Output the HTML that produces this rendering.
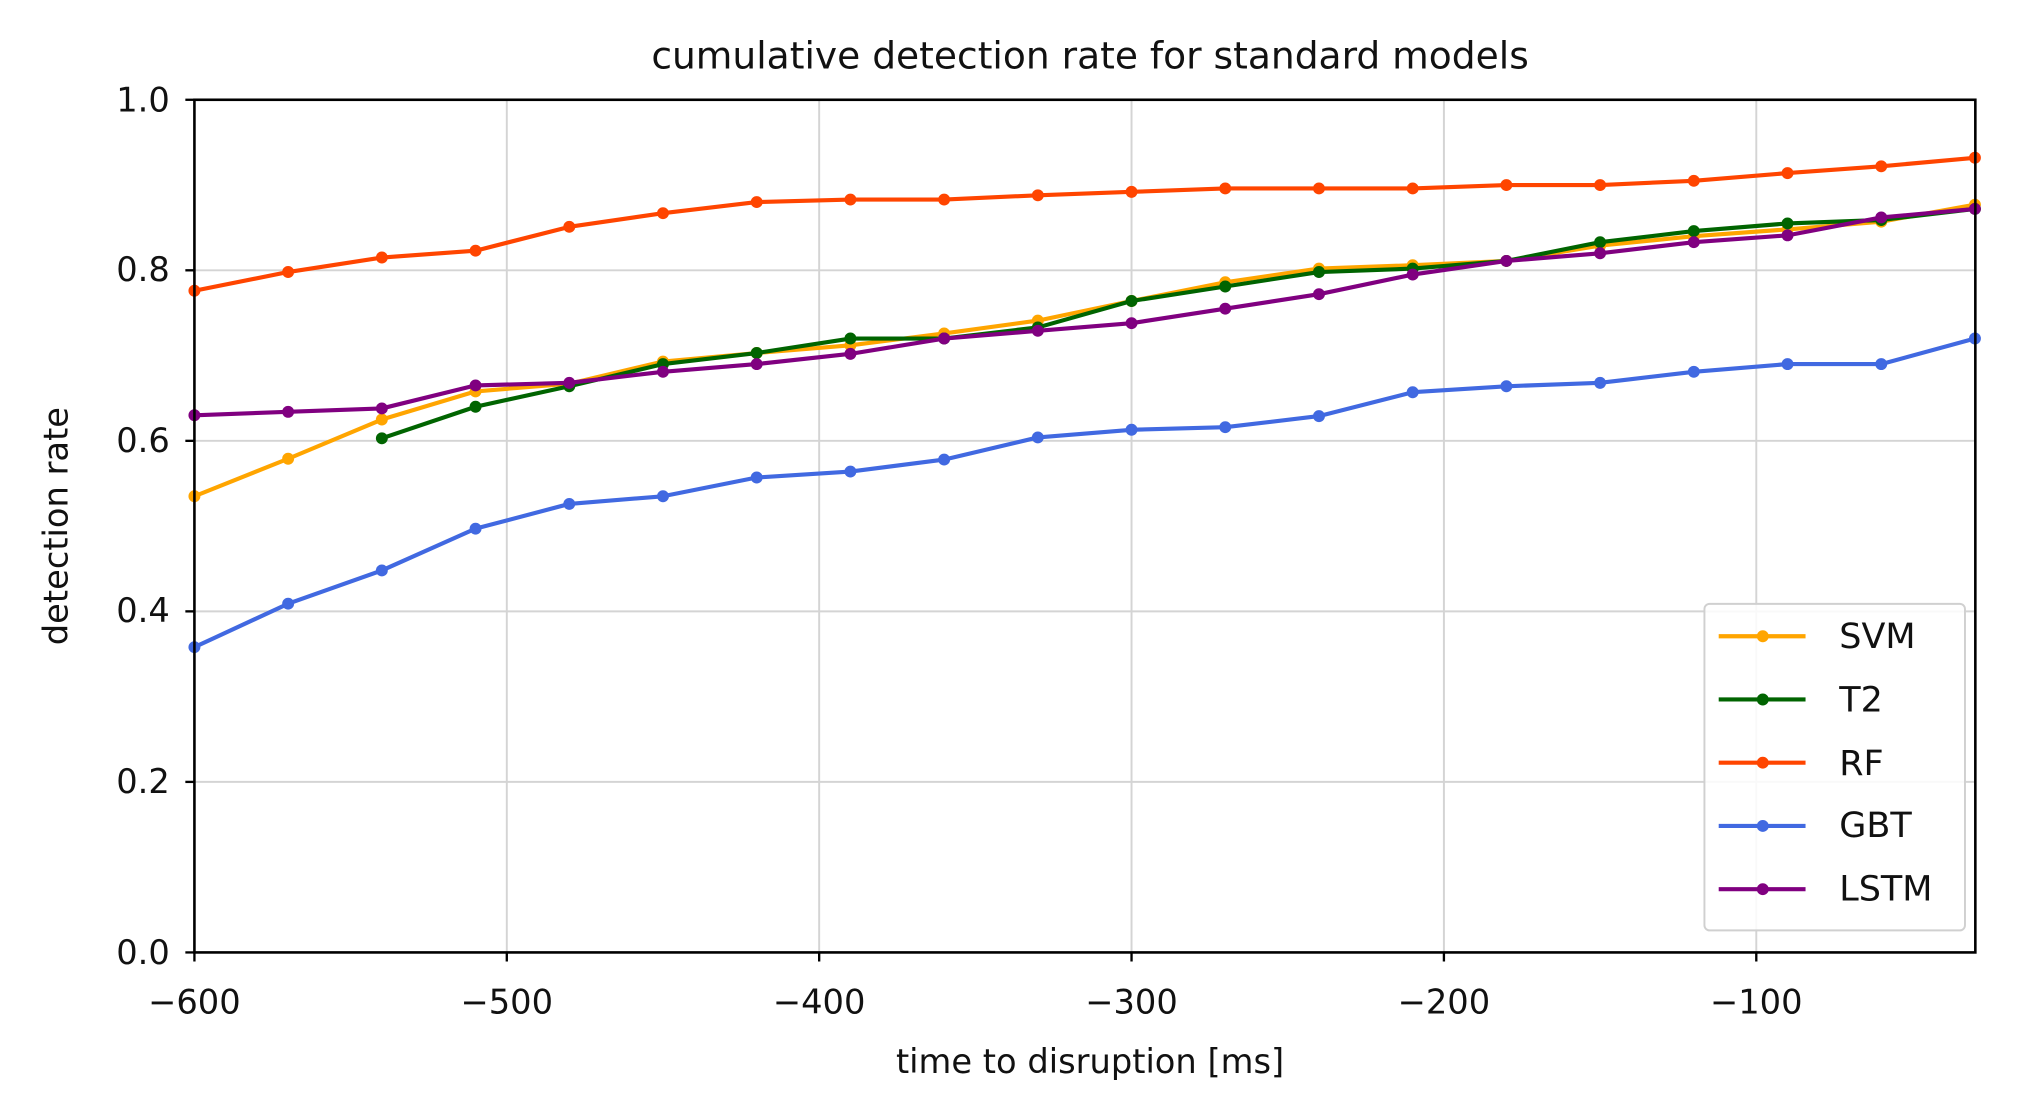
<!DOCTYPE html>
<html><head><meta charset="utf-8"><style>html,body{margin:0;padding:0;background:#fff}svg{display:block}</style></head>
<body>
<svg id="s" width="2022" height="1117" viewBox="0 0 1560 862" preserveAspectRatio="none" xmlns="http://www.w3.org/2000/svg" font-family="'DejaVu Sans','Liberation Sans',sans-serif">
<rect width="1560" height="862" fill="#fff"/>
<g id="grid" stroke="#d4d4d4" stroke-width="1.5"></g>
<g id="data"></g>
<rect x="150" y="77" width="1374" height="658" fill="none" stroke="#000" stroke-width="2"/>
<g id="ticks" stroke="#000" stroke-width="1.8"></g>
<text x="841" y="53" font-size="29" text-anchor="middle" fill="#111">cumulative detection rate for standard models</text>
<g font-size="26" fill="#111" text-anchor="end">
<text x="131" y="744">0.0</text><text x="131" y="612">0.2</text><text x="131" y="480">0.4</text>
<text x="131" y="349">0.6</text><text x="131" y="217">0.8</text><text x="131" y="86">1.0</text>
</g>
<g font-size="26" fill="#111" text-anchor="middle">
<text x="150" y="782">−600</text><text x="391" y="782">−500</text><text x="632" y="782">−400</text>
<text x="873" y="782">−300</text><text x="1114" y="782">−200</text><text x="1355" y="782">−100</text>
</g>
<text x="841" y="828" font-size="26" text-anchor="middle" fill="#111">time to disruption [ms]</text>
<text transform="translate(52,406) rotate(-90)" font-size="26" text-anchor="middle" fill="#111">detection rate</text>
<rect x="1315" y="466" width="201" height="252" rx="4" fill="#fff" fill-opacity="0.85" stroke="#d0d0d0" stroke-width="1.5"/>
<g id="leg"></g>
<g font-size="27" fill="#111">
<text x="1419" y="500">SVM</text><text x="1419" y="549">T2</text><text x="1419" y="598">RF</text>
<text x="1419" y="646">GBT</text><text x="1419" y="695">LSTM</text>
</g>
</svg>
<script>
var NS="http://www.w3.org/2000/svg";
function X(t){return 150+(t+600)*2.41;}
function Y(v){return 735-v*658;}
function el(p,n,a){var e=document.createElementNS(NS,n);for(var k in a)e.setAttribute(k,a[k]);p.appendChild(e);return e;}
var g=document.getElementById('grid'),tk=document.getElementById('ticks');
[-500,-400,-300,-200,-100].forEach(function(t){el(g,'line',{x1:X(t),x2:X(t),y1:77,y2:735});});
[0.2,0.4,0.6,0.8].forEach(function(v){el(g,'line',{x1:150,x2:1524,y1:Y(v),y2:Y(v)});});
[-600,-500,-400,-300,-200,-100].forEach(function(t){el(tk,'line',{x1:X(t),x2:X(t),y1:735,y2:742});});
[0,0.2,0.4,0.6,0.8,1].forEach(function(v){el(tk,'line',{x1:143,x2:150,y1:Y(v),y2:Y(v)});});
var S=[
["#ffa500",-600,[.535,.579,.625,.658,.667,.693,.703,.712,.726,.741,.764,.786,.802,.806,.811,.829,.840,.848,.857,.877]],
["#006400",-540,[.603,.640,.664,.690,.703,.720,.720,.733,.764,.781,.798,.802,.811,.833,.846,.855,.859,.872]],
["#ff4500",-600,[.776,.798,.815,.823,.851,.867,.880,.883,.883,.888,.892,.896,.896,.896,.900,.900,.905,.914,.922,.932]],
["#4169e1",-600,[.358,.409,.448,.497,.526,.535,.557,.564,.578,.604,.613,.616,.629,.657,.664,.668,.681,.690,.690,.720]],
["#800080",-600,[.630,.634,.638,.665,.668,.681,.690,.702,.720,.729,.738,.755,.772,.795,.811,.820,.833,.841,.862,.872]]];
var d=document.getElementById('data'),lg=document.getElementById('leg');
S.forEach(function(s,i){
 var pts=s[2].map(function(v,j){return [X(s[1]+30*j),Y(v)];});
 el(d,'polyline',{points:pts.map(function(p){return p.join(',');}).join(' '),fill:'none',stroke:s[0],'stroke-width':3.2,'stroke-linejoin':'round'});
 pts.forEach(function(p){el(d,'circle',{cx:p[0],cy:p[1],r:4.6,fill:s[0]});});
 var y=491+i*48.8;
 el(lg,'line',{x1:1326,x2:1393,y1:y,y2:y,stroke:s[0],'stroke-width':3.2});
 el(lg,'circle',{cx:1360,cy:y,r:4.6,fill:s[0]});
});
</script>
</body></html>
